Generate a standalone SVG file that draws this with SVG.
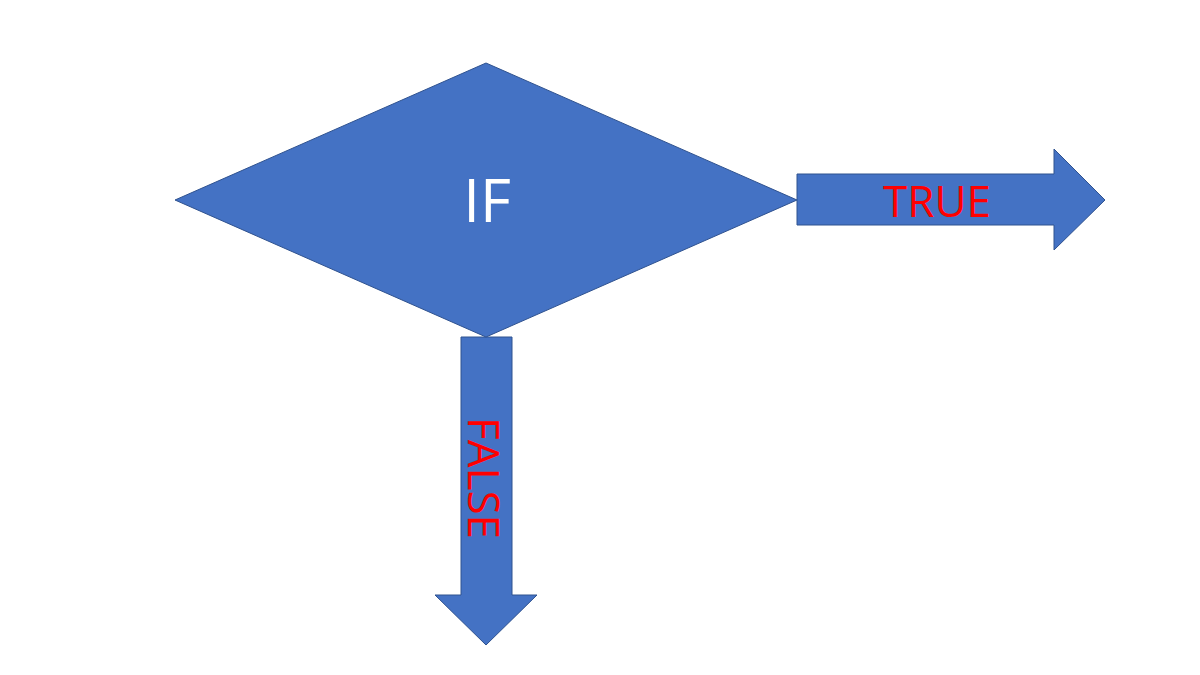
<svg xmlns="http://www.w3.org/2000/svg" width="1200" height="675" viewBox="0 0 1200 675">
<style>
.shape{fill:#4472C4;stroke:#2F528F;stroke-width:1}
.lbl{font-family:"Open Sans","Liberation Sans",sans-serif;text-anchor:middle}
.red{fill:#FF0000;font-size:44px}
</style>
<rect width="1200" height="675" fill="#FFFFFF"/>
<g id="connectors">
<g id="true-arrow">
<polygon class="shape" points="797,174 1054,174 1054,149 1105,200 1054,250 1054,225 797,225"/>
<text class="lbl red" x="937" y="217">TRUE</text>
</g>
<g id="false-arrow">
<polygon class="shape" points="461,337 512,337 512,595 537,595 486,645 435,595 461,595"/>
<text class="lbl red" transform="translate(468,478) rotate(90)" font-size="42">FALSE</text>
</g>
</g>
<g id="if-node">
<polygon class="shape" points="175,200 486,63 797,200 486,337"/>
<text class="lbl" x="487" y="222" fill="#FFFFFF" font-size="60">IF</text>
</g>
</svg>
